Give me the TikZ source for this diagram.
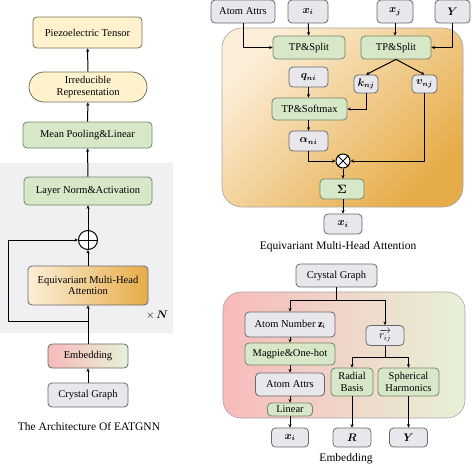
\documentclass[tikz,border=0pt]{standalone}
\usepackage{fontspec}
\usepackage{amsmath,bm}
\setmainfont{Liberation Serif}
\usetikzlibrary{arrows.meta,positioning}
\definecolor{gfill}{RGB}{214,232,200}
\definecolor{gdraw}{RGB}{115,135,105}
\definecolor{grfill}{RGB}{232,232,236}
\definecolor{grdraw}{RGB}{105,105,110}
\definecolor{yfill}{RGB}{255,242,204}
\definecolor{ydraw}{RGB}{120,110,90}
\definecolor{olight}{RGB}{252,238,216}
\definecolor{odark}{RGB}{230,172,72}
\definecolor{plight}{RGB}{247,186,186}
\definecolor{pgreen}{RGB}{232,241,216}
\definecolor{bgray}{RGB}{240,240,242}
\tikzset{
  box/.style={draw, rounded corners=4pt, line width=0.8pt, inner sep=1pt, align=center, font=\fontsize{10.5}{12}\selectfont},
  gbox/.style={box, fill=gfill, draw=gdraw},
  grbox/.style={box, fill=grfill, draw=grdraw},
  ybox/.style={box, fill=yfill, draw=ydraw},
  bx/.style 2 args={minimum width=#1pt, minimum height=#2pt},
  conn/.style={line width=1pt, -{Stealth[length=3.5pt,width=3.2pt]}},
  plainline/.style={line width=1pt},
  capt/.style={font=\fontsize{11.5}{13}\selectfont},
}
\begin{document}
\begin{tikzpicture}[x=1pt,y=-1pt]
\useasboundingbox (0,0) rectangle (474,466);
% ---------- left column ----------
\fill[bgray] (0,163) rectangle (173,333);
\node[ybox, bx={109}{31}] (pt) at (87.5,32.5) {Piezoelectric Tensor};
\node[ybox, rounded corners=15pt, bx={118}{30}, font=\fontsize{10.5}{11.5}\selectfont] (irr) at (88,87) {Irreducible\\Representation};
\node[gbox, bx={129}{26}] (mpl) at (87.5,135) {Mean Pooling\&Linear};
\node[gbox, bx={128}{28}] (ln) at (88,191) {Layer Norm\&Activation};
\node[draw, circle, line width=1pt, minimum size=19pt, inner sep=0pt, fill=white] (op) at (88,240) {};
\draw[line width=1pt] (op.north) -- (op.south) (op.west) -- (op.east);
\node[box, draw=grdraw, left color=olight, right color=odark, bx={120}{39}, font=\fontsize{10.5}{11.5}\selectfont] (ema) at (88,285.5) {Equivariant Multi-Head\\Attention};
\node[font=\fontsize{10.5}{12}\selectfont] (xn) at (157,315) {$\times\,\bm{N}$};
\node[box, draw=grdraw, left color=plight, right color=pgreen, bx={80}{24}] (emb) at (88,356) {Embedding};
\node[grbox, bx={80}{24}] (cg) at (88,395) {Crystal Graph};
\node[capt] (cap1) at (89,427) {The Architecture Of EATGNN};
\coordinate (sk1) at (88,321);
\coordinate (sk2) at (8,321);
\coordinate (sk3) at (8,240);
\draw[conn] (cg) -- (emb);
\draw[conn] (emb) -- (ema);
\draw[conn] (sk1) -- (sk2) -- (sk3) -- (op.west);
\draw[conn] (ema) -- (op);
\draw[conn] (op) -- (ln);
\draw[conn] (ln) -- (mpl);
\draw[conn] (mpl) -- (irr);
\draw[conn] (irr) -- (pt);
% ---------- attention ----------
\path[rounded corners=20pt, draw=grdraw!60, line width=0.6pt, top color=olight, bottom color=odark, shading angle=45] (222,28) rectangle (463,207);
\node[grbox, bx={64}{23}] (aa) at (243,11.5) {Atom Attrs};
\node[grbox, bx={40}{23}] (xi) at (308,11.5) {$\bm{x_i}$};
\node[grbox, bx={36}{23}] (xj) at (395,11.5) {$\bm{x_j}$};
\node[grbox, bx={35}{23}] (yy) at (452.5,11.5) {$\bm{Y}$};
\node[gbox, bx={72}{23}] (tps1) at (309,47.5) {TP\&Split};
\node[gbox, bx={70}{23}] (tps2) at (396,47.5) {TP\&Split};
\node[grbox, bx={39}{20}] (q) at (308.5,77) {$\bm{q_{ni}}$};
\node[grbox, bx={24}{18}] (k) at (366,84) {$\bm{k_{nj}}$};
\node[grbox, bx={25}{18}] (v) at (424.5,84) {$\bm{v_{nj}}$};
\node[gbox, bx={75}{22}] (tpsm) at (309.5,109) {TP\&Softmax};
\node[grbox, bx={39}{20}] (al) at (308.5,141) {$\bm{\alpha_{ni}}$};
\node[draw, circle, line width=1pt, minimum size=14pt, inner sep=0pt, fill=white] (ot) at (343,161) {};
\draw[line width=1pt] (ot.north west) -- (ot.south east) (ot.north east) -- (ot.south west);
\node[gbox, bx={44}{20}, font=\fontsize{13}{14}\selectfont] (sig) at (342,189) {$\bm{\Sigma}$};
\node[grbox, bx={38}{20}] (xo) at (343,224) {$\bm{x_i}$};
\node[capt] (cap2) at (338,247) {Equivariant Multi-Head Attention};
\draw[conn] (aa.south) |- (tps1.west);
\draw[conn] (xi) -- (tps1);
\draw[conn] (xj.south) -- (xj.south |- tps2.north);
\draw[conn] (yy.south) |- (tps2.east);
\draw[conn] (tps2.south) -- (k.north);
\draw[conn] (tps2.south) -- (v.north);
\draw[conn] (q) -- (q |- tpsm.north);
\draw[conn] (k.south) |- (tpsm.east);
\draw[conn] (tpsm.south -| al) -- (al);
\draw[conn] (al.south) |- (ot.west);
\draw[conn] (v.south) |- (ot.east);
\draw[conn] (ot) -- (ot |- sig.north);
\draw[conn] (ot |- sig.south) -- (xo);
% ---------- embedding ----------
\path[rounded corners=18pt, draw=grdraw!60, line width=0.6pt, left color=plight, right color=pgreen] (223,292) rectangle (465,418);
\node[grbox, bx={81}{23}] (cg2) at (336.5,275.5) {Crystal Graph};
\node[grbox, bx={90}{25}] (an) at (290,324.5) {Atom Number $\mathbf{z}_{\mathrm{i}}$};
\node[grbox, bx={38}{20}, inner sep=0pt] (rij) at (385,335.5) {$\overrightarrow{r_{ij}}$};
\node[gbox, bx={90}{22}] (mag) at (290,354) {Magpie\&One-hot};
\node[grbox, bx={69}{23}] (aa2) at (290,384.5) {Atom Attrs};
\node[gbox, bx={45}{13}, inner sep=0pt] (lin) at (290,409.5) {Linear};
\node[gbox, bx={42}{28}, font=\fontsize{10.5}{11.5}\selectfont] (rb) at (352,382) {Radial\\Basis};
\node[gbox, bx={61}{28}, font=\fontsize{10.5}{11.5}\selectfont] (sh) at (408.5,382) {Spherical\\Harmonics};
\node[grbox, bx={37}{19}] (xo2) at (290,437.5) {$\bm{x_i}$};
\node[grbox, bx={38}{19}] (ro) at (352,437.5) {$\bm{R}$};
\node[grbox, bx={38}{19}] (yo) at (408.5,437.5) {$\bm{Y}$};
\node[capt] (cap3) at (346,459) {Embedding};
\coordinate (br1) at (336.5,300);
\coordinate (br2) at (385,357);
\draw[plainline] (cg2.south) -- (br1);
\draw[conn] (br1) -| (an.north);
\draw[conn] (br1) -| (rij.north);
\draw[plainline] (rij.south) -- (br2);
\draw[conn] (br2) -| (rb.north);
\draw[conn] (br2) -| (sh.north);
\draw[conn] (an) -- (mag);
\draw[conn] (mag) -- (aa2);
\draw[conn] (aa2) -- (lin);
\draw[conn] (lin) -- (xo2);
\draw[conn] (rb) -- (ro);
\draw[conn] (sh) -- (yo);
\end{tikzpicture}
\end{document}
